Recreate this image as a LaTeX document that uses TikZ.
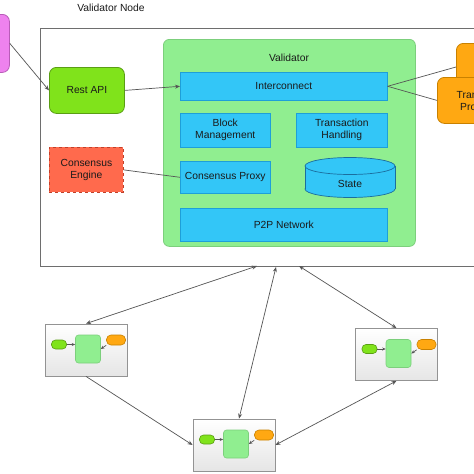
\documentclass[tikz,border=0pt]{standalone}
\usepackage{fontspec}
\setmainfont{Liberation Sans}
\usetikzlibrary{arrows.meta,calc}
\definecolor{pinkfill}{HTML}{EE82EE}
\definecolor{pinkdraw}{HTML}{B85CB8}
\definecolor{limefill}{HTML}{80E31B}
\definecolor{limedraw}{HTML}{5A9E14}
\definecolor{valfill}{HTML}{90EE90}
\definecolor{valdraw}{HTML}{7CCF7C}
\definecolor{bluefill}{HTML}{33C6F7}
\definecolor{bluedraw}{HTML}{1E9FD8}
\definecolor{redfill}{HTML}{FF6A4D}
\definecolor{reddraw}{HTML}{C0402A}
\definecolor{orangefill}{HTML}{FFA812}
\definecolor{orangedraw}{HTML}{C98100}
\definecolor{cyldraw}{HTML}{1B6E9E}
\definecolor{linegray}{HTML}{555555}
\definecolor{framegray}{HTML}{6E6E6E}
\definecolor{txt}{HTML}{1A1A1A}
\tikzset{
  nw/.style={anchor=north west, inner sep=0pt, align=center},
  mainbox/.style={nw, draw=framegray, line width=1.2pt, fill=white},
  valbox/.style={nw, draw=valdraw, fill=valfill, line width=0.8pt, rounded corners=6pt},
  bluebox/.style={nw, draw=bluedraw, fill=bluefill, line width=0.6pt},
  restbox/.style={nw, draw=limedraw, fill=limefill, line width=0.8pt, rounded corners=7pt},
  pinkbox/.style={nw, draw=pinkdraw, fill=pinkfill, line width=0.8pt, rounded corners=7pt},
  enginebox/.style={nw, draw=reddraw, fill=redfill, line width=0.8pt, dashed},
  orangebox/.style={nw, draw=orangedraw, fill=orangefill, line width=0.8pt, rounded corners=7pt},
  conn/.style={draw=linegray, line width=0.7pt},
  arr/.style={-{Stealth[length=5pt,width=4pt]}},
  darr/.style={{Stealth[length=5pt,width=4pt]}-{Stealth[length=5pt,width=4pt]}},
  smallarr/.style={-{Stealth[length=3.5pt,width=3pt]}},
  minibox/.style={draw=gray!85, line width=0.8pt, top color=white, bottom color=black!10, minimum width=82pt, minimum height=52pt, inner sep=0pt},
  minisq/.style={draw=valdraw, fill=valfill, line width=0.6pt, rounded corners=3pt, minimum width=25pt, minimum height=28pt, inner sep=0pt},
  minig/.style={draw=limedraw, fill=limefill, line width=0.6pt, rounded corners=4pt, minimum width=15pt, minimum height=9pt, inner sep=0pt},
  minio/.style={draw=orangedraw, fill=orangefill, line width=0.6pt, rounded corners=4.5pt, minimum width=19pt, minimum height=10pt, inner sep=0pt},
  mini/.pic={
    \node[minibox] (-box) at (0,0) {};
    \node[minisq] (-sq) at (2,-1) {};
    \node[minig] (-g) at (-27,-5.5) {};
    \node[minio] (-o) at (30,-10) {};
    \draw[conn, smallarr] (-g.east) -- (-sq.west |- -g.east);
    \draw[conn, smallarr] (-o.south west) -- (-sq.east);
  }
}
\begin{document}
\begin{tikzpicture}[x=1pt, y=-1pt, font=\fontsize{10.3}{12}\selectfont, text=txt]
\useasboundingbox (0,0) rectangle (474,474);
\clip (0,0) rectangle (474,474);
\fill[white] (0,0) rectangle (474,474);

% main validator node frame
\node[mainbox, minimum width=470pt, minimum height=238pt] (vn) at (40,28) {};
\node (vntitle) at (111,8) {Validator Node};

% validator
\node[valbox, minimum width=252pt, minimum height=207pt] (val) at (163,39) {};
\node (vallabel) at (289,58) {Validator};
\node[bluebox, minimum width=207pt, minimum height=28pt] (ic) at (180,72) {Interconnect};
\node[bluebox, minimum width=90pt, minimum height=34pt] (bm) at (180,113) {Block\\Management};
\node[bluebox, minimum width=91pt, minimum height=34pt] (th) at (296,113) {Transaction\\Handling};
\node[bluebox, minimum width=90pt, minimum height=32pt] (cp) at (180,161) {Consensus Proxy};
\node[bluebox, minimum width=207pt, minimum height=33pt] (p2p) at (180,208) {P2P Network};

% state cylinder
\filldraw[fill=bluefill, draw=cyldraw, line width=0.7pt] (350,189) ellipse [x radius=45, y radius=8.5];
\fill[bluefill] (305,166) rectangle (395,189);
\draw[cyldraw, line width=0.7pt] (305,166) -- (305,189) (395,166) -- (395,189);
\filldraw[fill=bluefill, draw=cyldraw, line width=0.7pt] (350,166) ellipse [x radius=45, y radius=8.5];
\node (state) at (350,184) {State};

% left side
\node[enginebox, minimum width=74pt, minimum height=45pt] (ce) at (49,147) {Consensus\\Engine};
\node[restbox, minimum width=75pt, minimum height=46pt] (rest) at (49,67) {Rest API};
\node[pinkbox, minimum width=29pt, minimum height=58pt] (client) at (-20,14) {};

% transaction processors
\node[orangebox, minimum width=84pt, minimum height=80pt] (tpb) at (456,43) {};
\node[orangebox, minimum width=92pt, minimum height=46pt] (tpf) at (437,77) {Transaction\\Processor};

% connectors inside
\draw[conn, arr] (client.east) -- (rest.west);
\draw[conn, arr] (rest.east) -- (ic.west);
\draw[conn] (ic.east) -- ($(tpb.north west)+(0,24)$);
\draw[conn] (ic.east) -- (tpf.west);
\draw[conn] (ce.east) -- (cp.west);

% network of validator nodes
\pic (n1) at (86,350) {mini};
\pic (n2) at (396.5,354.5) {mini};
\pic (n3) at (234,445) {mini};

\coordinate (m1) at (257,266);
\coordinate (m2) at (299,266);
\coordinate (m3) at (276,267);
\draw[conn, darr] (m1) -- (n1-box.north);
\draw[conn, darr] (m2) -- (n2-box.north);
\draw[conn, darr] (m3) -- ($(n3-box.north)+(5,0)$);
\draw[conn, arr] (n1-box.south) -- (n3-box.west);
\draw[conn, darr] (n2-box.south) -- (n3-box.east);
\end{tikzpicture}
\end{document}
